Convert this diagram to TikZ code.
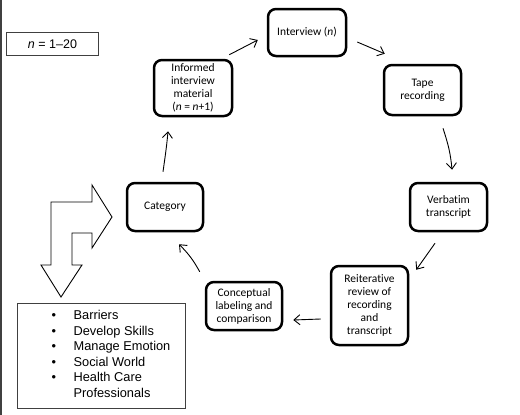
\documentclass[tikz,border=0pt]{standalone}
\usepackage{fontspec}
\setmainfont{Carlito}[Ligatures=NoCommon]
\newfontfamily\arialfont{Liberation Sans}
\usetikzlibrary{arrows.meta}
\begin{document}
\begin{tikzpicture}[x=1pt,y=-1pt,
  stage/.style={draw=black, line width=2.5pt, rounded corners=8pt, align=center,
    inner sep=2pt, font=\fontsize{11.5}{13}\selectfont},
  plainbox/.style={draw=black!75, line width=1pt, inner sep=0pt},
  arr/.style={-{Straight Barb[length=6pt,width=10pt]}, line width=0.9pt},
  bigarrow/.style={draw=black, line width=0.9pt},
]
\useasboundingbox (0,0) rectangle (520,415);
\fill[black!75] (0,0) rectangle (2,415);

% counter box
\node[plainbox, minimum width=92pt, minimum height=23pt,
  font=\arialfont\fontsize{12.5}{15}\selectfont] (count) at (52.5,44) {\textit{n} = 1–20};

% stages
\node[stage, minimum width=78pt, minimum height=56pt] (informed) at (193,88)
  {Informed\\interview\\material\\(\textit{n} = \textit{n}+1)};
\node[stage, minimum width=78pt, minimum height=47pt] (interview) at (307,32.5)
  {Interview (\textit{n})};
\node[stage, minimum width=77pt, minimum height=50pt] (tape) at (422.5,90)
  {Tape\\recording};
\node[stage, minimum width=77pt, minimum height=48pt] (verbatim) at (448.5,207)
  {Verbatim\\transcript};
\node[stage, minimum width=77pt, minimum height=79pt] (reiter) at (369.5,305.5)
  {Reiterative\\review of\\recording\\and\\transcript};
\node[stage, minimum width=76pt, minimum height=48pt] (concept) at (244,306)
  {Conceptual\\labeling and\\comparison};
\node[stage, minimum width=76pt, minimum height=48pt] (category) at (165,207)
  {Category};

% list box
\node[plainbox, minimum width=168pt, minimum height=105pt,
  font=\arialfont\fontsize{12.8}{15.5}\selectfont] (list) at (101,355.5)
  {\hspace*{20pt}\begin{tabular}{@{}p{22pt}@{}l@{}}
   \textbullet & Barriers\\
   \textbullet & Develop Skills\\
   \textbullet & Manage Emotion\\
   \textbullet & Social World\\
   \textbullet & Health Care\\
               & Professionals
   \end{tabular}};

% cycle arrows
\draw[arr] ([xshift=-4pt,yshift=4pt]informed.north east) -- ([xshift=-9pt,yshift=-7.5pt]interview.west);
\draw[arr] ([xshift=10pt,yshift=-9.5pt]interview.east) -- ([xshift=2pt,yshift=10pt]tape.north west);
\draw[arr] ([xshift=20.5pt,yshift=-12pt]tape.south) to[out=-72,in=95] ([xshift=3.5pt,yshift=12pt]verbatim.north);
\draw[arr] ([xshift=-13.5pt,yshift=-11pt]verbatim.south) -- ([xshift=7pt,yshift=-5pt]reiter.north east);
\draw[arr] ([xshift=-9pt,yshift=-13.5pt]reiter.west) -- ([xshift=10pt,yshift=-14pt]concept.east);
\draw[arr] ([xshift=-5pt,yshift=9pt]concept.north west) to[bend right=8] ([xshift=14pt,yshift=-12pt]category.south);
\draw[arr] ([xshift=-2pt,yshift=10pt]category.north) to[out=82,in=-95] ([xshift=-25pt,yshift=-14pt]informed.south);

% bent double arrow
\draw[bigarrow] (92,202) -- (92,185) -- (112,217) -- (92,248) -- (92,233) -- (72,233)
  -- (72,265) -- (82,265) -- (61,297) -- (41,265) -- (51,265) -- (51,202) -- cycle;
\end{tikzpicture}
\end{document}
